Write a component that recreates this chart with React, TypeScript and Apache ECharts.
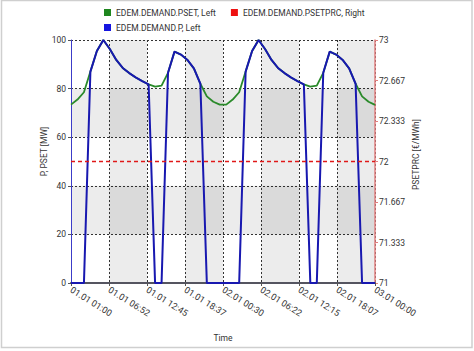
import { useEffect, useRef } from "react";
import * as echarts from "echarts";

// Series names (legend order)
const seriesNames = [
  "EDEM.DEMAND.PSET, Left",
  "EDEM.DEMAND.PSETPRC, Right",
  "EDEM.DEMAND.P, Left",
];

// Hourly samples starting 01.01 01:00 (hour offsets 0..47)
const psetValues = [
  73.4, 75.5, 78.5, 87.0, 95.5, 100.0, 96.3, 91.8, 88.5, 86.4, 84.6, 83.1,
  81.7, 80.8, 81.2, 86.5, 95.2, 94.0, 91.8, 88.3, 82.0, 76.8, 74.6, 73.4,
  73.4, 75.5, 78.5, 87.0, 95.5, 100.0, 96.3, 91.8, 88.5, 86.4, 84.6, 83.1,
  81.7, 80.8, 81.2, 86.5, 95.2, 94.0, 91.8, 88.3, 82.0, 76.8, 74.6, 73.3,
];
const pValues = [
  0, 0, 0, 87.0, 95.5, 100.0, 96.3, 91.8, 88.5, 86.4, 84.6, 83.1,
  81.7, 0, 0, 86.5, 95.2, 94.0, 91.8, 88.3, 82.0, 0, 0, 0,
  0, 0, 0, 87.0, 95.5, 100.0, 96.3, 91.8, 88.5, 86.4, 84.6, 83.1,
  81.7, 0, 0, 86.5, 95.2, 94.0, 91.8, 88.3, 82.0, 0, 0, 0,
];
const psetprcValues = [
  72, 72, 72, 72, 72, 72, 72, 72, 72, 72, 72, 72,
  72, 72, 72, 72, 72, 72, 72, 72, 72, 72, 72, 72,
  72, 72, 72, 72, 72, 72, 72, 72, 72, 72, 72, 72,
  72, 72, 72, 72, 72, 72, 72, 72, 72, 72, 72, 72,
];

// Axis ranges
const timeRange = [0, 47]; // hours after 01.01 01:00
const timeStep = 5.875;
const leftRange = [0, 100];
const leftStep = 20;
const rightRange = [71, 73];
const rightStep = 1 / 3;

const FONT = "Roboto, 'Noto Sans', sans-serif";

const pad = (n: number) => (n < 10 ? "0" + n : "" + n);
const fmtTime = (h: number) => {
  const total = Math.floor(60 + h * 60 + 1e-6);
  const day = 1 + Math.floor(total / 1440);
  const m = total % 1440;
  return `${pad(day)}.01 ${pad(Math.floor(m / 60))}:${pad(m % 60)}`;
};
const fmtPrice = (v: number) => String(Math.round(v * 1000) / 1000);

export default function App() {
  const ref = useRef<HTMLDivElement>(null);
  useEffect(() => {
    if (!ref.current) return;
    const chart = echarts.init(ref.current, null, { renderer: "svg" });
    const toXY = (arr: number[]) => arr.map((v, i) => [i, v]);
    chart.setOption({
      animation: false,
      textStyle: { fontFamily: FONT },
      graphic: [
        {
          type: "rect",
          shape: { x: 1.5, y: 0.5, width: 470.5, height: 347 },
          style: { fill: "none", stroke: "#cfcfcf", lineWidth: 1.5 },
          silent: true,
        },
      ],
      legend: [
        {
          data: [seriesNames[0], seriesNames[1]],
          left: 104,
          top: 8,
          padding: 0,
          icon: "rect",
          itemWidth: 7,
          itemHeight: 7,
          itemGap: 15,
          textStyle: { fontSize: 8.5, color: "#333", fontFamily: FONT },
        },
        {
          data: [seriesNames[2]],
          left: 104,
          top: 23,
          padding: 0,
          icon: "rect",
          itemWidth: 7,
          itemHeight: 7,
          textStyle: { fontSize: 8.5, color: "#333", fontFamily: FONT },
        },
      ],
      grid: { left: 71, right: 99, top: 40, bottom: 68 },
      xAxis: {
        type: "value",
        min: timeRange[0],
        max: timeRange[1],
        interval: timeStep,
        name: "Time",
        nameLocation: "middle",
        nameGap: 50,
        nameTextStyle: { fontSize: 8.5, color: "#333" },
        axisLine: { show: true, lineStyle: { color: "#555560", width: 2 } },
        axisTick: { show: true, length: 3, lineStyle: { color: "#555" } },
        axisLabel: {
          rotate: -32,
          margin: 6,
          fontSize: 9,
          color: "#333",
          formatter: fmtTime,
          showMinLabel: true,
          showMaxLabel: true,
        },
        splitLine: { show: true, lineStyle: { color: "#333", type: [2, 2], width: 1 } },
        splitArea: { show: true, areaStyle: { color: ["rgba(0,0,0,0)", "rgba(0,0,0,0.075)"] } },
      },
      yAxis: [
        {
          type: "value",
          position: "left",
          min: leftRange[0],
          max: leftRange[1],
          interval: leftStep,
          name: "P, PSET [MW]",
          nameLocation: "middle",
          nameGap: 23,
          nameMoveOverlap: false,
          nameTextStyle: { fontSize: 8.5, color: "#333", padding: [0, 0, 0, 20] },
          axisLine: { show: true, lineStyle: { color: "#3c3cc8", width: 1 } },
          axisTick: { show: true, length: 3, lineStyle: { color: "#555" } },
          axisLabel: { margin: 5, fontSize: 8.5, color: "#333" },
          splitLine: { show: true, lineStyle: { color: "#333", type: [2, 2], width: 1 } },
          splitArea: { show: true, areaStyle: { color: ["rgba(0,0,0,0)", "rgba(0,0,0,0.075)"] } },
        },
        {
          type: "value",
          position: "right",
          min: rightRange[0],
          max: rightRange[1],
          interval: rightStep,
          name: "PSETPRC [€/MWh]",
          nameLocation: "middle",
          nameGap: 36,
          nameMoveOverlap: false,
          nameTextStyle: { fontSize: 8.5, color: "#333", padding: [0, 0, 0, 14] },
          axisLine: { show: true, lineStyle: { color: "#e08080", width: 1.5 } },
          axisTick: { show: true, length: 3, lineStyle: { color: "#e08080" } },
          axisLabel: { margin: 4, fontSize: 8.5, color: "#333", formatter: fmtPrice },
          splitLine: { show: false },
        },
      ],
      series: [
        {
          name: seriesNames[0],
          type: "line",
          data: toXY(psetValues),
          symbol: "none",
          color: "#1e861e",
          lineStyle: { width: 1.8, color: "#2a8a2a" },
          z: 2,
        },
        {
          name: seriesNames[1],
          type: "line",
          yAxisIndex: 1,
          data: toXY(psetprcValues),
          symbol: "none",
          color: "#ee1111",
          lineStyle: { width: 1.6, color: "#e01818", type: [4, 3] },
          z: 4,
        },
        {
          name: seriesNames[2],
          type: "line",
          data: toXY(pValues),
          symbol: "none",
          color: "#1515e0",
          lineStyle: { width: 2, color: "#1818b0" },
          z: 3,
        },
      ],
    });
    return () => chart.dispose();
  }, []);
  return (
    <div
      ref={ref}
      style={{ position: "absolute", left: 0, top: 0, width: 474, height: 351, background: "#fff" }}
    />
  );
}
